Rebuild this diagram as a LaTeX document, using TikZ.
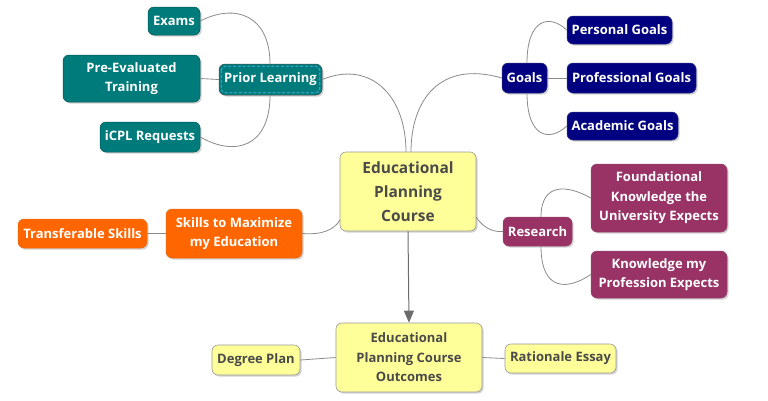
\documentclass[tikz,border=0pt]{standalone}
\usepackage{fontspec}
\setmainfont{Open Sans}
\usetikzlibrary{shadows,arrows.meta}
\definecolor{teal1}{HTML}{007B7B}
\definecolor{navy1}{HTML}{000080}
\definecolor{orange1}{HTML}{FF6600}
\definecolor{maroon1}{HTML}{993366}
\definecolor{yellow1}{HTML}{FFFF99}
\definecolor{linegray}{HTML}{8A8A8A}
\definecolor{txtgray}{HTML}{4A4A4A}
\definecolor{dashblue}{HTML}{2E9FC0}
\tikzset{
  box/.style={rounded corners=6pt, inner sep=0pt, align=center,
    font=\fontsize{13}{19.5}\selectfont\bfseries,
    drop shadow={shadow xshift=1.6pt, shadow yshift=-1.6pt, opacity=0.35}},
  tealbox/.style={box, fill=teal1, draw=teal1!70!black, line width=0.5pt, text=white},
  navybox/.style={box, fill=navy1, draw=navy1!60!gray, line width=0.5pt, text=white},
  orangebox/.style={box, fill=orange1, draw=orange1!80!gray, line width=0.5pt, text=white},
  maroonbox/.style={box, fill=maroon1, draw=maroon1!80!gray, line width=0.5pt, text=white},
  yellowbox/.style={box, fill=yellow1, draw=gray!80, line width=0.6pt, text=txtgray},
  link/.style={draw=linegray, line width=0.8pt},
  arrowlink/.style={draw=gray!85!black, line width=1pt, -{Triangle[width=10pt,length=12pt]}}
}
\begin{document}
\begin{tikzpicture}[x=1pt,y=-1pt]
\useasboundingbox (0,0) rectangle (768,400);
% Prior learning branch
\node[tealbox, minimum width=52pt, minimum height=28pt] (exams) at (174,21) {Exams};
\node[tealbox, minimum width=137pt, minimum height=47pt] (pre) at (131.5,78.5) {Pre-Evaluated\\Training};
\node[tealbox, minimum width=100pt, minimum height=30pt] (icpl) at (150,137) {iCPL Requests};
\node[tealbox, draw=black!70, minimum width=103pt, minimum height=31pt] (prior) at (270.5,79.5) {Prior Learning};
\draw[draw=dashblue, dash pattern=on 3pt off 1.8pt, line width=1.3pt, rounded corners=4pt]
  ([shift={(2.5pt,-2.5pt)}]prior.north west) rectangle ([shift={(-2.5pt,2.5pt)}]prior.south east);
% Goals branch
\node[navybox, minimum width=45pt, minimum height=30pt] (goals) at (524.5,78) {Goals};
\node[navybox, minimum width=105pt, minimum height=28pt] (pgoals) at (619.5,30) {Personal Goals};
\node[navybox, minimum width=129pt, minimum height=30pt] (profgoals) at (631.5,78) {Professional Goals};
\node[navybox, minimum width=111pt, minimum height=28pt] (agoals) at (622.5,126) {Academic Goals};
% Central
\node[yellowbox, minimum width=136pt, minimum height=79pt, font=\fontsize{15.5}{24}\selectfont\bfseries] (central) at (408,191.5) {Educational\\Planning\\Course};
% Research branch
\node[maroonbox, minimum width=69pt, minimum height=29pt] (research) at (537.5,231.5) {Research};
\node[maroonbox, minimum width=136pt, minimum height=68pt] (found) at (659,198) {Foundational\\Knowledge the\\University Expects};
\node[maroonbox, minimum width=136pt, minimum height=47pt] (knowp) at (659,274.5) {Knowledge my\\Profession Expects};
% Skills branch
\node[orangebox, minimum width=136pt, minimum height=49pt] (skills) at (234,233.5) {Skills to Maximize\\my Education};
\node[orangebox, minimum width=129pt, minimum height=29pt] (trans) at (82.5,233.5) {Transferable Skills};
% Outcomes
\node[yellowbox, minimum width=146pt, minimum height=69pt] (outcomes) at (409,357.5) {Educational\\Planning Course\\Outcomes};
\node[yellowbox, minimum width=111pt, minimum height=29pt] (rationale) at (560.5,358.5) {Rationale Essay};
\node[yellowbox, minimum width=88pt, minimum height=30pt] (degree) at (256,360) {Degree Plan};

\coordinate (ctl) at (406,152);
\coordinate (ctr) at (411,152);
\coordinate (cl) at (340,220);
\coordinate (cr) at (476,217);
\coordinate (ptop) at (270,64);
\coordinate (pbot) at (270,95);
\coordinate (gtop) at (527,63);
\coordinate (gbot) at (527,93);
\coordinate (rtop) at (541,217);
\coordinate (rbot) at (541,246);

% connectors
\draw[link] (prior.east) .. controls (370,60) and (406,95) .. (ctl);
\draw[link] (ctr) .. controls (411,100) and (440,60) .. (goals.west);
\draw[link] (skills.east) .. controls (322,235) and (334,230) .. (cl);
\draw[link] (cr) .. controls (485,230) and (495,232) .. (research.west);
\draw[link] (exams.east) .. controls (235,3) and (270,15) .. (ptop);
\draw[link] (pre.east) -- (prior.west);
\draw[link] (icpl.east) .. controls (235,157) and (270,147) .. (pbot);
\draw[link] (gtop) .. controls (527,18) and (550,14) .. (pgoals.west);
\draw[link] (goals.east) -- (profgoals.west);
\draw[link] (gbot) .. controls (527,138) and (550,142) .. (agoals.west);
\draw[link] (rtop) .. controls (541,182) and (568,185) .. (found.west);
\draw[link] (rbot) .. controls (541,292) and (568,290) .. (knowp.west);
\draw[link] (trans.east) -- (skills.west);
\draw[link] (degree.east) -- (outcomes.west);
\draw[link] (outcomes.east) -- (rationale.west);
\draw[arrowlink] (central.south) -- (outcomes.north);
\end{tikzpicture}
\end{document}
